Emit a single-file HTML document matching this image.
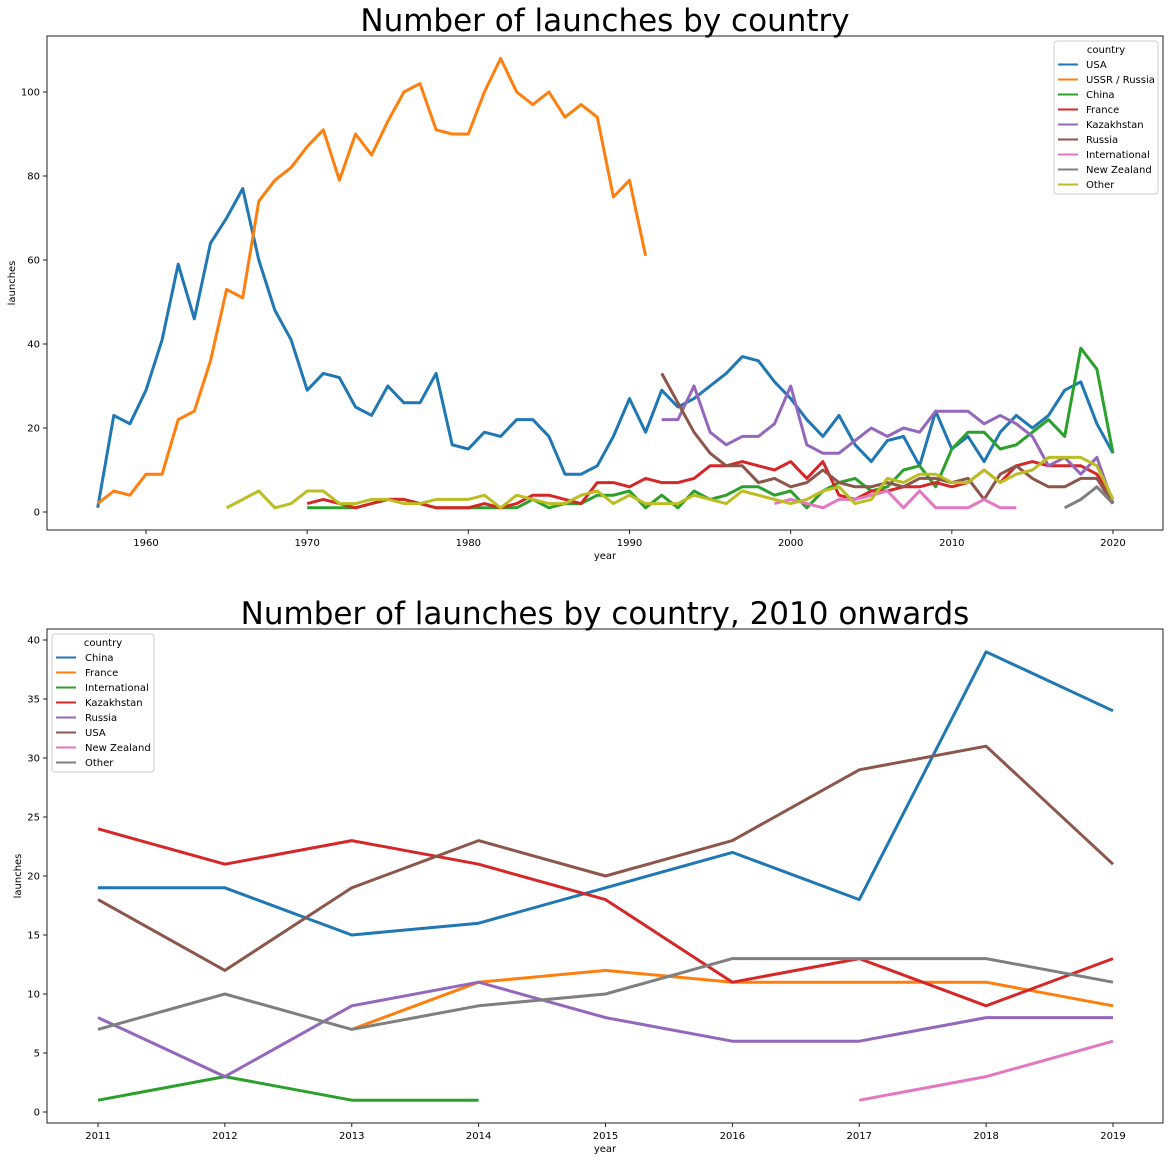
<!DOCTYPE html>
<html><head><meta charset="utf-8">
<style>
body{margin:0;background:#fff;font-family:"Liberation Sans","DejaVu Sans",sans-serif;}
svg text{font-family:"DejaVu Sans","Liberation Sans",sans-serif;}
</style></head>
<body>
<svg id="chart" width="1170" height="1161" xmlns="http://www.w3.org/2000/svg"></svg>
<script>
// ---- Top chart data ----
const topCountries = ["USA","USSR / Russia","China","France","Kazakhstan","Russia","International","New Zealand","Other"];
const topColors = ["#1f77b4","#ff7f0e","#2ca02c","#d62728","#9467bd","#8c564b","#e377c2","#7f7f7f","#bcbd22"];
const usaStart = 1957;
const usaValues = [1,23,21,29,41,59,46,64,70,77,60,48,41,29,33,32,25,23,30,26,26,33,16,15,19,18,22,22,18,9,9,11,18,27,19,29,25,27,30,33,37,36,31,27,22,18,23,16,12,17,18,11,24,15,18,12,19,23,20,23,29,31,21,14];
const ussrStart = 1957;
const ussrValues = [2,5,4,9,9,22,24,36,53,51,74,79,82,87,91,79,90,85,93,100,102,91,90,90,100,108,100,97,100,94,97,94,75,79,61];
const chinaStart = 1970;
const chinaValues = [1,1,1,1,2,3,3,2,1,1,1,1,1,1,3,1,2,2,4,4,5,1,4,1,5,3,4,6,6,4,5,1,5,7,8,5,6,10,11,6,15,19,19,15,16,19,22,18,39,34,14];
const franceStart = 1970;
const franceValues = [2,3,2,1,2,3,3,2,1,1,1,2,1,2,4,4,3,2,7,7,6,8,7,7,8,11,11,12,11,10,12,8,12,4,3,5,5,6,6,7,6,7,10,7,11,12,11,11,11,9,3];
const kazStart = 1992;
const kazValues = [22,22,30,19,16,18,18,21,30,16,14,14,17,20,18,20,19,24,24,24,21,23,21,18,11,13,9,13,2];
const russiaStart = 1992;
const russiaValues = [33,26,19,14,11,11,7,8,6,7,10,7,6,6,7,6,8,8,7,8,3,9,11,8,6,6,8,8,2];
const intlStart = 1999;
const intlValues = [2,3,2,1,3,3,4,5,1,5,1,1,1,3,1,1];
const nzStart = 2017;
const nzValues = [1,3,6,2];
const otherStart = 1965;
const otherValues = [1,3,5,1,2,5,5,2,2,3,3,2,2,3,3,3,4,1,4,3,2,2,4,5,2,4,2,2,2,4,3,2,5,4,3,2,3,5,6,2,3,8,7,9,9,7,7,10,7,9,10,13,13,13,11,3];
const topXTicks = [1960,1970,1980,1990,2000,2010,2020];
const topYTicks = [0,20,40,60,80,100];

// ---- Bottom chart data ----
const botYears = [2011,2012,2013,2014,2015,2016,2017,2018,2019];
const botCountries = ["China","France","International","Kazakhstan","Russia","USA","New Zealand","Other"];
const botColors = ["#1f77b4","#ff7f0e","#2ca02c","#d62728","#9467bd","#8c564b","#e377c2","#7f7f7f"];
const botChina = [19,19,15,16,19,22,18,39,34];
const botFrance = [null,null,7,11,12,11,11,11,9];
const botIntl = [1,3,1,1,null,null,null,null,null];
const botKaz = [24,21,23,21,18,11,13,9,13];
const botRussia = [8,3,9,11,8,6,6,8,8];
const botUSA = [18,12,19,23,20,23,29,31,21];
const botNZ = [null,null,null,null,null,null,1,3,6];
const botOther = [7,10,7,9,10,13,13,13,11];
const botYTicks = [0,5,10,15,20,25,30,35,40];

const NS="http://www.w3.org/2000/svg";
const svg=document.getElementById('chart');
function mk(tag,attrs,parent){const e=document.createElementNS(NS,tag);for(const k in attrs)e.setAttribute(k,attrs[k]);(parent||svg).appendChild(e);return e;}
function txt(s,attrs,parent){const e=mk('text',attrs,parent);e.textContent=s;return e;}

// axes functions
const tx=y=>146+(y-1960)*(1113-146)/60;
const ty=v=>512-v*4.2;
const bx=y=>98+(y-2011)*(1113-98)/8;
const by=v=>1112-v*11.8;

function frame(x0,y0,x1,y1,name){
  const r=mk('rect',{x:x0,y:y0,width:x1-x0,height:y1-y0,fill:'none',stroke:'#222','stroke-width':1});
  
  
}

// Top chart
const gTop=mk('g',{});


let t=txt('Number of launches by country',{x:605,y:31,'font-size':31,'text-anchor':'middle',fill:'#000'},gTop);


topXTicks.forEach(v=>{
  mk('line',{x1:tx(v),x2:tx(v),y1:530,y2:534,stroke:'#222'},gTop);
  const l=txt(String(v),{x:tx(v),y:546,'font-size':10,'text-anchor':'middle'},gTop);
  
  
});
topYTicks.forEach(v=>{
  mk('line',{x1:43,x2:47,y1:ty(v),y2:ty(v),stroke:'#222'},gTop);
  const l=txt(String(v),{x:40,y:ty(v)+3.5,'font-size':10,'text-anchor':'end'},gTop);
  
  
});
t=txt('year',{x:605,y:559,'font-size':10,'text-anchor':'middle'},gTop);


t=txt('launches',{x:15,y:283,'font-size':10,'text-anchor':'middle',transform:'rotate(-90 15 283)'},gTop);



const topSeries=[[usaStart,usaValues],[ussrStart,ussrValues],[chinaStart,chinaValues],[franceStart,franceValues],[kazStart,kazValues],[russiaStart,russiaValues],[intlStart,intlValues],[nzStart,nzValues],[otherStart,otherValues]];
topSeries.forEach((s,i)=>{
  const pts=s[1].map((v,j)=>tx(s[0]+j).toFixed(1)+','+ty(v).toFixed(1)).join(' ');
  const p=mk('polyline',{points:pts,fill:'none',stroke:topColors[i],'stroke-width':3,'stroke-linejoin':'round'},gTop);
  
  
});
frame(47,36,1163,530,'top-plot-area');

// top legend
const lgT=mk('g',{});


mk('rect',{x:1054,y:41,width:104,height:153,rx:3,fill:'#fff','fill-opacity':0.8,stroke:'#ccc'},lgT);
txt('country',{x:1106,y:53,'font-size':10,'text-anchor':'middle'},lgT);
topCountries.forEach((c,i)=>{
  const y=64.5+i*15;
  mk('line',{x1:1058,x2:1078,y1:y,y2:y,stroke:topColors[i],'stroke-width':2},lgT);
  const e=txt(c,{x:1086,y:y+3.5,'font-size':10},lgT);
  
  
});

// Bottom chart
const gBot=mk('g',{});


t=txt('Number of launches by country, 2010 onwards',{x:605,y:624,'font-size':31,'text-anchor':'middle'},gBot);


botYears.forEach(v=>{
  mk('line',{x1:bx(v),x2:bx(v),y1:1123,y2:1127,stroke:'#222'},gBot);
  const l=txt(String(v),{x:bx(v),y:1139,'font-size':10,'text-anchor':'middle'},gBot);
  
  
});
botYTicks.forEach(v=>{
  mk('line',{x1:43,x2:47,y1:by(v),y2:by(v),stroke:'#222'},gBot);
  const l=txt(String(v),{x:40,y:by(v)+3.5,'font-size':10,'text-anchor':'end'},gBot);
  
  
});
t=txt('year',{x:605,y:1152,'font-size':10,'text-anchor':'middle'},gBot);


t=txt('launches',{x:21,y:876,'font-size':10,'text-anchor':'middle',transform:'rotate(-90 21 876)'},gBot);



const botSeries=[botChina,botFrance,botIntl,botKaz,botRussia,botUSA,botNZ,botOther];
botSeries.forEach((s,i)=>{
  const pts=[];
  s.forEach((v,j)=>{if(v!==null)pts.push(bx(botYears[j]).toFixed(1)+','+by(v).toFixed(1));});
  const p=mk('polyline',{points:pts.join(' '),fill:'none',stroke:botColors[i],'stroke-width':3,'stroke-linejoin':'round'},gBot);
  
  
});
frame(47,629,1163,1123,'bottom-plot-area');

const lgB=mk('g',{});


mk('rect',{x:52,y:634,width:102,height:138,rx:3,fill:'#fff','fill-opacity':0.8,stroke:'#ccc'},lgB);
txt('country',{x:103,y:646,'font-size':10,'text-anchor':'middle'},lgB);
botCountries.forEach((c,i)=>{
  const y=657.5+i*15;
  mk('line',{x1:56,x2:76,y1:y,y2:y,stroke:botColors[i],'stroke-width':2},lgB);
  const e=txt(c,{x:85,y:y+3.5,'font-size':10},lgB);
  
  
});
</script>
</body></html>
